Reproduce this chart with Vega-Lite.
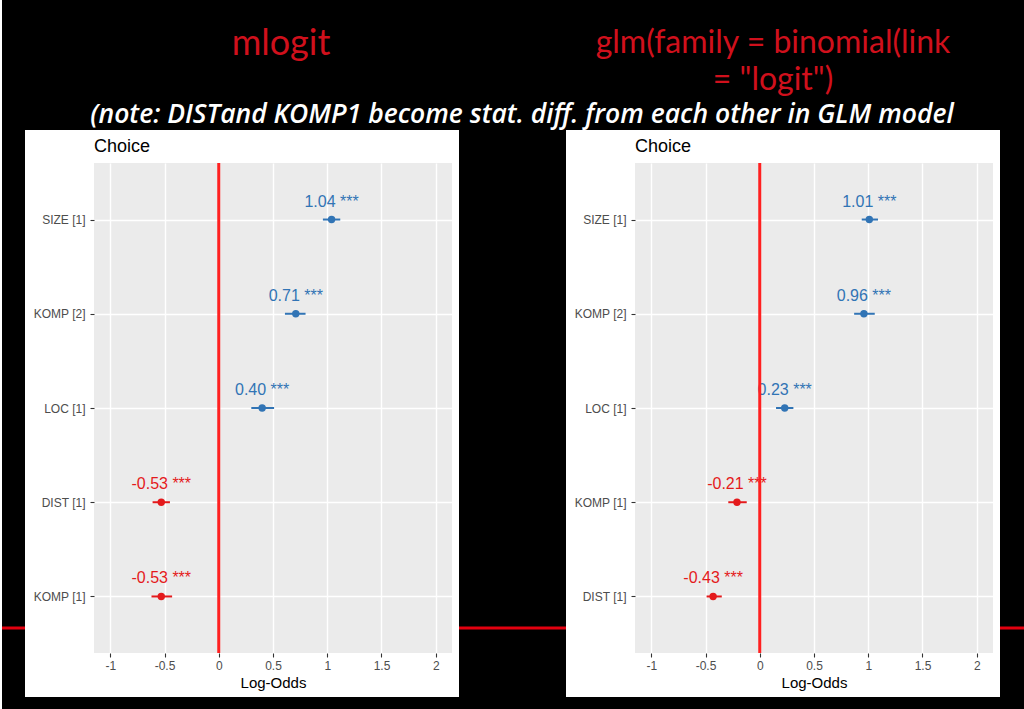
{
  "$schema": "https://vega.github.io/schema/vega-lite/v6.json",
  "background": "white",
  "padding": 0,
  "bounds": "flush",
  "spacing": 183,
  "config": {
    "view": {"fill": "#EBEBEB", "stroke": null},
    "axis": {
      "domain": false,
      "labelFont": "Liberation Sans",
      "labelFontSize": 12,
      "labelColor": "#4D4D4D",
      "tickColor": "#333333",
      "tickSize": 4,
      "tickWidth": 1.1,
      "labelPadding": 3,
      "gridColor": "white",
      "gridWidth": 1.4,
      "titleFont": "Liberation Sans",
      "titleFontSize": 15,
      "titleFontWeight": "normal",
      "titleColor": "black",
      "titlePadding": 4
    },
    "axisY": {"labelPadding": 5}
  },
  "datasets": {
    "coef": [
      {"model": "mlogit", "term": "SIZE [1]", "estimate": 1.04, "lo": 0.96, "hi": 1.12, "label": "1.04 ***"},
      {"model": "mlogit", "term": "KOMP [2]", "estimate": 0.71, "lo": 0.61, "hi": 0.8, "label": "0.71 ***"},
      {"model": "mlogit", "term": "LOC [1]", "estimate": 0.4, "lo": 0.3, "hi": 0.51, "label": "0.40 ***"},
      {"model": "mlogit", "term": "DIST [1]", "estimate": -0.53, "lo": -0.61, "hi": -0.45, "label": "-0.53 ***"},
      {"model": "mlogit", "term": "KOMP [1]", "estimate": -0.53, "lo": -0.62, "hi": -0.43, "label": "-0.53 ***"},
      {"model": "glm", "term": "SIZE [1]", "estimate": 1.01, "lo": 0.94, "hi": 1.09, "label": "1.01 ***"},
      {"model": "glm", "term": "KOMP [2]", "estimate": 0.96, "lo": 0.87, "hi": 1.06, "label": "0.96 ***"},
      {"model": "glm", "term": "LOC [1]", "estimate": 0.23, "lo": 0.15, "hi": 0.31, "label": "0.23 ***"},
      {"model": "glm", "term": "KOMP [1]", "estimate": -0.21, "lo": -0.29, "hi": -0.12, "label": "-0.21 ***"},
      {"model": "glm", "term": "DIST [1]", "estimate": -0.43, "lo": -0.49, "hi": -0.35, "label": "-0.43 ***"}
    ]
  },
  "hconcat": [
    {
      "width": 358,
      "height": 490,
      "resolve": {"scale": {"y": "independent"}},
      "layer": [
        {
          "data": {"name": "coef"},
          "transform": [{"filter": "datum.model === 'mlogit'"}],
          "layer": [
            {
              "mark": {"type": "rule", "strokeWidth": 2},
              "encoding": {
                "y": {"field": "term", "type": "nominal", "sort": null, "scale": {"type": "point", "padding": 0.6},
                      "axis": {"title": null, "grid": true, "ticks": true}},
                "x": {"field": "lo", "type": "quantitative", "title": "Log-Odds",
                      "scale": {"domain": [-1.15, 2.15], "nice": false, "zero": false},
                      "axis": {
                        "values": [-1, -0.75, -0.5, -0.25, 0, 0.25, 0.5, 0.75, 1, 1.25, 1.5, 1.75, 2],
                        "labelExpr": "datum.value % 0.5 === 0 ? '' + datum.value : ''",
                        "grid": true,
                        "gridWidth": {"condition": {"test": "datum.value % 0.5 === 0", "value": 1.4}, "value": 0.7},
                        "tickOpacity": {"condition": {"test": "datum.value % 0.5 === 0", "value": 1}, "value": 0},
                        "labelOverlap": false,
                        "labelFlush": false
                      }},
                "x2": {"field": "hi"},
                "color": {"condition": {"test": "datum.estimate < 0", "value": "#E41A1C"}, "value": "#3174B5"}
              }
            },
            {
              "mark": {"type": "point", "filled": true, "size": 55, "opacity": 1},
              "encoding": {
                "y": {"field": "term", "type": "nominal", "sort": null},
                "x": {"field": "estimate", "type": "quantitative", "title": "Log-Odds"},
                "color": {"condition": {"test": "datum.estimate < 0", "value": "#E41A1C"}, "value": "#3174B5"}
              }
            },
            {
              "mark": {"type": "text", "font": "Liberation Sans", "fontSize": 16, "dy": -13, "baseline": "alphabetic", "align": "center"},
              "encoding": {
                "y": {"field": "term", "type": "nominal", "sort": null},
                "x": {"field": "estimate", "type": "quantitative", "title": "Log-Odds"},
                "text": {"field": "label"},
                "color": {"condition": {"test": "datum.estimate < 0", "value": "#E41A1C"}, "value": "#3174B5"}
              }
            }
          ]
        },
        {
          "data": {"values": [{}]},
          "mark": {"type": "rule", "color": "#FF2020", "strokeWidth": 3},
          "encoding": {"x": {"datum": 0, "type": "quantitative", "scale": {"domain": [-1.15, 2.15], "nice": false, "zero": false}}}
        },
        {
          "data": {"values": [{}]},
          "mark": {"type": "rect", "color": "black", "clip": false},
          "encoding": {
            "x": {"datum": -1.99804, "type": "quantitative", "scale": {"domain": [-1.15, 2.15], "nice": false, "zero": false}},
            "x2": {"datum": 7.44106},
            "y": {"datum": 1.33265, "type": "quantitative", "scale": {"domain": [0, 1], "nice": false}, "axis": null},
            "y2": {"datum": 1.06735}
          }
        },
        {
          "data": {"values": [{}]},
          "mark": {"type": "rect", "color": "black", "clip": false},
          "encoding": {
            "x": {"datum": -1.99804, "type": "quantitative", "scale": {"domain": [-1.15, 2.15], "nice": false, "zero": false}},
            "x2": {"datum": 7.44106},
            "y": {"datum": -0.0898, "type": "quantitative", "scale": {"domain": [0, 1], "nice": false}, "axis": null},
            "y2": {"datum": -0.11429}
          }
        },
        {
          "data": {"values": [{}]},
          "mark": {"type": "rect", "color": "black", "clip": false},
          "encoding": {
            "x": {"datum": -1.99804, "type": "quantitative", "scale": {"domain": [-1.15, 2.15], "nice": false, "zero": false}},
            "x2": {"datum": -1.78603},
            "y": {"datum": 1.06735, "type": "quantitative", "scale": {"domain": [0, 1], "nice": false}, "axis": null},
            "y2": {"datum": -0.0898}
          }
        },
        {
          "data": {"values": [{}]},
          "mark": {"type": "rect", "color": "black", "clip": false},
          "encoding": {
            "x": {"datum": 2.21453, "type": "quantitative", "scale": {"domain": [-1.15, 2.15], "nice": false, "zero": false}},
            "x2": {"datum": 3.20084},
            "y": {"datum": 1.06735, "type": "quantitative", "scale": {"domain": [0, 1], "nice": false}, "axis": null},
            "y2": {"datum": -0.0898}
          }
        },
        {
          "data": {"values": [{}]},
          "mark": {"type": "rect", "color": "black", "clip": false},
          "encoding": {
            "x": {"datum": 7.2014, "type": "quantitative", "scale": {"domain": [-1.15, 2.15], "nice": false, "zero": false}},
            "x2": {"datum": 7.44106},
            "y": {"datum": 1.06735, "type": "quantitative", "scale": {"domain": [0, 1], "nice": false}, "axis": null},
            "y2": {"datum": -0.0898}
          }
        },
        {
          "data": {"values": [{}]},
          "mark": {"type": "rule", "color": "#E3000F", "strokeWidth": 3, "clip": false},
          "encoding": {
            "x": {"datum": -1.99804, "type": "quantitative", "scale": {"domain": [-1.15, 2.15], "nice": false, "zero": false}},
            "x2": {"datum": -1.78603},
            "y": {"datum": 0.05102, "type": "quantitative", "scale": {"domain": [0, 1], "nice": false}, "axis": null}
          }
        },
        {
          "data": {"values": [{}]},
          "mark": {"type": "rule", "color": "#E3000F", "strokeWidth": 3, "clip": false},
          "encoding": {
            "x": {"datum": 2.21453, "type": "quantitative", "scale": {"domain": [-1.15, 2.15], "nice": false, "zero": false}},
            "x2": {"datum": 3.20084},
            "y": {"datum": 0.05102, "type": "quantitative", "scale": {"domain": [0, 1], "nice": false}, "axis": null}
          }
        },
        {
          "data": {"values": [{}]},
          "mark": {"type": "rule", "color": "#E3000F", "strokeWidth": 3, "clip": false},
          "encoding": {
            "x": {"datum": 7.2014, "type": "quantitative", "scale": {"domain": [-1.15, 2.15], "nice": false, "zero": false}},
            "x2": {"datum": 7.44106},
            "y": {"datum": 0.05102, "type": "quantitative", "scale": {"domain": [0, 1], "nice": false}, "axis": null}
          }
        },
        {
          "data": {"values": [{}]},
          "mark": {"type": "text", "text": "mlogit", "font": "Lato", "fontSize": 36, "color": "#D0101C", "align": "center", "baseline": "alphabetic", "clip": false},
          "encoding": {
            "x": {"datum": 0.57374, "type": "quantitative", "scale": {"domain": [-1.15, 2.15], "nice": false, "zero": false}},
            "y": {"datum": 1.22041, "type": "quantitative", "scale": {"domain": [0, 1], "nice": false}, "axis": null}
          }
        },
        {
          "data": {"values": [{}]},
          "mark": {"type": "text", "text": ["glm(family = binomial(link", "= \"logit\")"], "lineHeight": 37, "font": "Lato", "fontSize": 32, "color": "#D0101C", "align": "center", "baseline": "alphabetic", "clip": false},
          "encoding": {
            "x": {"datum": 5.10894, "type": "quantitative", "scale": {"domain": [-1.15, 2.15], "nice": false, "zero": false}},
            "y": {"datum": 1.22449, "type": "quantitative", "scale": {"domain": [0, 1], "nice": false}, "axis": null}
          }
        },
        {
          "data": {"values": [{}]},
          "mark": {"type": "text", "text": "(note: DISTand KOMP1 become stat. diff. from each other in GLM model", "font": "Open Sans", "fontSize": 26.5, "fontStyle": "italic", "fontWeight": 600, "color": "white", "align": "center", "baseline": "alphabetic", "clip": false},
          "encoding": {
            "x": {"datum": 2.79525, "type": "quantitative", "scale": {"domain": [-1.15, 2.15], "nice": false, "zero": false}},
            "y": {"datum": 1.08163, "type": "quantitative", "scale": {"domain": [0, 1], "nice": false}, "axis": null}
          }
        },
        {
          "data": {"values": [{}]},
          "mark": {"type": "text", "text": "Choice", "font": "Liberation Sans", "fontSize": 18, "color": "black", "align": "left", "baseline": "alphabetic", "clip": false},
          "encoding": {
            "x": {"datum": -1.15, "type": "quantitative", "scale": {"domain": [-1.15, 2.15], "nice": false, "zero": false}},
            "y": {"datum": 1.02245, "type": "quantitative", "scale": {"domain": [0, 1], "nice": false}, "axis": null}
          }
        }
      ]
    },
    {
      "width": 358,
      "height": 490,
      "resolve": {"scale": {"y": "independent"}},
      "layer": [
        {
          "data": {"name": "coef"},
          "transform": [{"filter": "datum.model === 'glm'"}],
          "layer": [
            {
              "mark": {"type": "rule", "strokeWidth": 2},
              "encoding": {
                "y": {"field": "term", "type": "nominal", "sort": null, "scale": {"type": "point", "padding": 0.6},
                      "axis": {"title": null, "grid": true, "ticks": true}},
                "x": {"field": "lo", "type": "quantitative", "title": "Log-Odds",
                      "scale": {"domain": [-1.15, 2.15], "nice": false, "zero": false},
                      "axis": {
                        "values": [-1, -0.75, -0.5, -0.25, 0, 0.25, 0.5, 0.75, 1, 1.25, 1.5, 1.75, 2],
                        "labelExpr": "datum.value % 0.5 === 0 ? '' + datum.value : ''",
                        "grid": true,
                        "gridWidth": {"condition": {"test": "datum.value % 0.5 === 0", "value": 1.4}, "value": 0.7},
                        "tickOpacity": {"condition": {"test": "datum.value % 0.5 === 0", "value": 1}, "value": 0},
                        "labelOverlap": false,
                        "labelFlush": false
                      }},
                "x2": {"field": "hi"},
                "color": {"condition": {"test": "datum.estimate < 0", "value": "#E41A1C"}, "value": "#3174B5"}
              }
            },
            {
              "mark": {"type": "point", "filled": true, "size": 55, "opacity": 1},
              "encoding": {
                "y": {"field": "term", "type": "nominal", "sort": null},
                "x": {"field": "estimate", "type": "quantitative", "title": "Log-Odds"},
                "color": {"condition": {"test": "datum.estimate < 0", "value": "#E41A1C"}, "value": "#3174B5"}
              }
            },
            {
              "mark": {"type": "text", "font": "Liberation Sans", "fontSize": 16, "dy": -13, "baseline": "alphabetic", "align": "center"},
              "encoding": {
                "y": {"field": "term", "type": "nominal", "sort": null},
                "x": {"field": "estimate", "type": "quantitative", "title": "Log-Odds"},
                "text": {"field": "label"},
                "color": {"condition": {"test": "datum.estimate < 0", "value": "#E41A1C"}, "value": "#3174B5"}
              }
            }
          ]
        },
        {
          "data": {"values": [{}]},
          "mark": {"type": "rule", "color": "#FF2020", "strokeWidth": 3},
          "encoding": {"x": {"datum": 0, "type": "quantitative", "scale": {"domain": [-1.15, 2.15], "nice": false, "zero": false}}}
        },
        {
          "data": {"values": [{}]},
          "mark": {"type": "text", "text": "Choice", "font": "Liberation Sans", "fontSize": 18, "color": "black", "align": "left", "baseline": "alphabetic", "clip": false},
          "encoding": {
            "x": {"datum": -1.15, "type": "quantitative", "scale": {"domain": [-1.15, 2.15], "nice": false, "zero": false}},
            "y": {"datum": 1.02245, "type": "quantitative", "scale": {"domain": [0, 1], "nice": false}, "axis": null}
          }
        }
      ]
    }
  ]
}
